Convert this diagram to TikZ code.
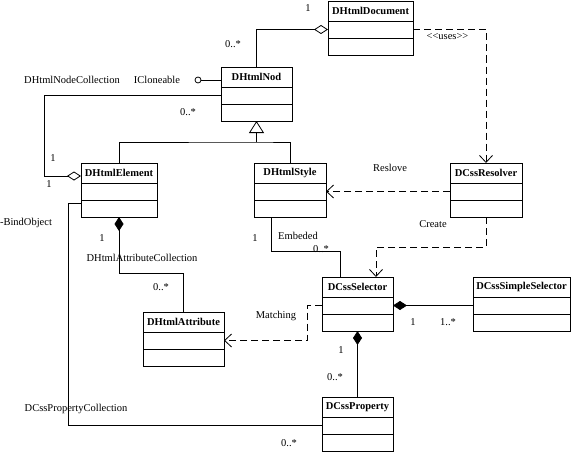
\documentclass[tikz,border=0pt]{standalone}
\usepackage{fontspec}
\setmainfont{Liberation Serif}
\usetikzlibrary{positioning}
\usetikzlibrary{arrows.meta}
\tikzset{
	classbox/.style = {rectangle, draw=black, line width=0.9pt, outer sep=0pt,
		inner sep=0pt},
	cls_t/.style = {classbox, minimum height=20pt,
		font=\fontsize{10.5}{12}\selectfont\bfseries},% class, name part
	cls_r/.style = {classbox, minimum height=17pt},% class, empty part
	lbl/.style = {inner sep=0pt, font=\fontsize{10.5}{12}\selectfont},
	link/.style = {draw, line width=0.8pt},
	dep/.style = {link, ->, dash pattern=on 7pt off 4pt},% dependency
	agg/.style = {link, -{Diamond[open, length=14pt, width=9pt]}},% aggregation
	comp/.style = {link, -{Diamond[length=14pt, width=9pt]}},% composition
	gen/.style = {link, -{Triangle[open, length=12pt, width=15pt]}}% inheritance
}

\begin{document}
\begin{tikzpicture}[x=1pt, y=-1pt, >={Straight Barb[length=7pt, width=13pt]}]
	\useasboundingbox (0,0) rectangle (572,452);
	% classes
	\node[cls_t, minimum width=85pt] (doc) at (370.5,11) {DHtmlDocument};
	\node[cls_r, minimum width=85pt, below=0pt of doc] (doc-a) {};
	\node[cls_r, minimum width=85pt, below=0pt of doc-a] (doc-b) {};
	\node[cls_t, minimum width=71pt] (nod) at (256.5,77) {DHtmlNod};
	\node[cls_r, minimum width=71pt, below=0pt of nod] (nod-a) {};
	\node[cls_r, minimum width=71pt, below=0pt of nod-a] (nod-b) {};
	\node[cls_t, minimum width=76pt] (elem) at (119,173) {DHtmlElement};
	\node[cls_r, minimum width=76pt, below=0pt of elem] (elem-a) {};
	\node[cls_r, minimum width=76pt, below=0pt of elem-a] (elem-b) {};
	\node[cls_t, minimum width=72pt] (style) at (290,173) {DHtmlStyle};
	\node[cls_r, minimum width=72pt, below=0pt of style] (style-a) {};
	\node[cls_r, minimum width=72pt, below=0pt of style-a] (style-b) {};
	\node[cls_t, minimum width=72pt] (resolver) at (486,173) {DCssResolver};
	\node[cls_r, minimum width=72pt, below=0pt of resolver] (resolver-a) {};
	\node[cls_r, minimum width=72pt, below=0pt of resolver-a] (resolver-b) {};
	\node[cls_t, minimum width=81pt] (attr) at (183.5,322) {DHtmlAttribute};
	\node[cls_r, minimum width=81pt, below=0pt of attr] (attr-a) {};
	\node[cls_r, minimum width=81pt, below=0pt of attr-a] (attr-b) {};
	\node[cls_t, minimum width=71pt] (selector) at (357.5,287) {DCssSelector};
	\node[cls_r, minimum width=71pt, below=0pt of selector] (selector-a) {};
	\node[cls_r, minimum width=71pt, below=0pt of selector-a] (selector-b) {};
	\node[cls_t, minimum width=97pt] (simple) at (521.5,287) {DCssSimpleSelector};
	\node[cls_r, minimum width=97pt, below=0pt of simple] (simple-a) {};
	\node[cls_r, minimum width=97pt, below=0pt of simple-a] (simple-b) {};
	\node[cls_t, minimum width=71pt] (prop) at (357.5,407) {DCssProperty};
	\node[cls_r, minimum width=71pt, below=0pt of prop] (prop-a) {};
	\node[cls_r, minimum width=71pt, below=0pt of prop-a] (prop-b) {};

	% interface
	\node[circle, draw, line width=0.8pt, minimum size=6pt, inner sep=0pt]
		(iclone) at (198,80) {};
	\draw[link] (iclone.east) -- (iclone -| nod.west);
	\node[lbl] (l_iclone) at (157,80) {ICloneable};
	\node[lbl] (l_nodecoll) at (72,80) {DHtmlNodeCollection};

	% inheritance
	\coordinate (genjoin) at (256.5,142);
	\draw[gen] (genjoin) -- (nod-b.south);
	\draw[link] (elem.north) |- (genjoin) -| (style.north);

	% associations
	\draw[agg] (nod.north) |- (doc-a.west);
	\node[lbl] (m_doc1) at (308,8) {1};
	\node[lbl] (m_doc2) at (233,44) {0..*};
	\draw[agg] (nod-a.west) -- ++(-177,0) |- ([yshift=-3pt]elem.west);
	\node[lbl] (m_coll1) at (53,158) {1};
	\node[lbl] (m_coll2) at (49,184) {1};
	\node[lbl] (m_coll3) at (188,112) {0..*};
	\draw[comp] (attr.north) -- (attr.north |- 0,273) -| (elem-b.south);
	\node[lbl] (m_attr1) at (102,238) {1};
	\node[lbl] (l_attrcoll) at (142,258) {DHtmlAttributeCollection};
	\node[lbl] (m_attr2) at (161,287) {0..*};
	\draw[link] ([yshift=5pt]elem-b.west) -- ++(-13,0) |- (prop-a.west);
	\node[lbl] (l_bind) at (26,223) {-BindObject};
	\node[lbl] (l_propcoll) at (76,409) {DCssPropertyCollection};
	\node[lbl] (m_prop1) at (289,443) {0..*};
	\draw[link] ([xshift=-19pt]style-b.south) -- ++(0,34)
		-| ([xshift=-17.5pt]selector.north);
	\node[lbl] (m_emb1) at (255,238) {1};
	\node[lbl] (l_emb) at (298,236) {Embeded};
	\node[lbl] (m_emb2) at (321,249) {0..*};
	\draw[comp] (simple-a.west) -- (selector-a.east);
	\node[lbl] (m_simple1) at (413,322) {1};
	\node[lbl] (m_simple2) at (448,322) {1..*};
	\draw[comp] (prop.north) -- (selector-b.south);
	\node[lbl] (m_sel1) at (341,350) {1};
	\node[lbl] (m_sel2) at (335,377) {0..*};

	% dependencies
	\draw[dep] (doc-a.east) -| (resolver.north);
	\node[lbl] (l_uses) at (447.5,37) {<\kern0pt<uses>\kern0pt>};
	\draw[dep] (resolver-a.west) -- (style-a.east);
	\node[lbl] (l_reslove) at (390,168) {Reslove};
	\draw[dep] (resolver-b.south) -- ++(0,30) -| ([xshift=18.5pt]selector.north);
	\node[lbl] (l_create) at (433,224) {Create};
	\draw[dep] (selector-a.west) -- ++(-15,0) |- (attr-a.east);
	\node[lbl] (l_matching) at (276,316) {Matching};
\end{tikzpicture}
\end{document}
